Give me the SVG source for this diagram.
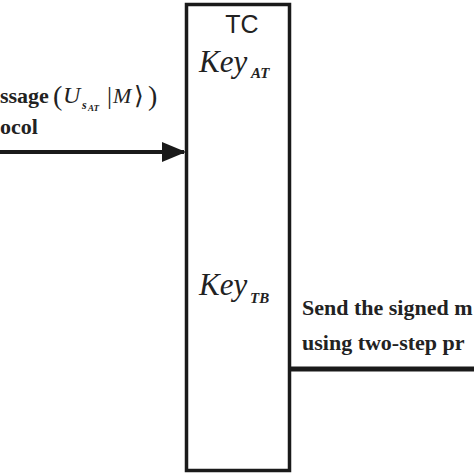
<svg xmlns="http://www.w3.org/2000/svg" width="474" height="474" viewBox="0 0 474 474">
<style>
.lbl{font-family:"Liberation Serif","Times New Roman",serif;font-weight:bold;font-size:22px;fill:#222}
.key{font-family:"Liberation Serif","Times New Roman",serif;font-style:italic;font-weight:normal;fill:#222}
.sub{font-weight:bold}
.ln{stroke:#1a1a1a;fill:none}
</style>
<defs>
<marker id="ah" markerWidth="6" markerHeight="5" refX="5.5" refY="2.5" orient="auto" markerUnits="strokeWidth"><path d="M0,0 L6,2.5 L0,5 Z" fill="#1a1a1a"/></marker>
</defs>
<rect width="474" height="474" fill="#fff"/>
<g id="tc">
<rect x="186.5" y="4.5" width="103" height="466" fill="#fff" stroke="#1a1a1a" stroke-width="3.5"/>
<text x="242" y="33" text-anchor="middle" font-family="Liberation Sans, Arial, sans-serif" font-size="25" fill="#222">TC</text>
<text x="199" y="72" class="key" font-size="31">Key</text>
<text x="251" y="78" class="key sub" font-size="15">AT</text>
<text x="199" y="295" class="key" font-size="31">Key</text>
<text x="250" y="303" class="key sub" font-size="15">TB</text>
</g>
<g id="connectors">
<line class="ln" x1="0" y1="152" x2="184" y2="152" stroke-width="4" marker-end="url(#ah)"/>
<line class="ln" x1="290" y1="369" x2="474" y2="369" stroke-width="5"/>
</g>
<g id="labels">
<text y="103" class="lbl"><tspan x="0">ssage</tspan><tspan x="53" y="105" font-weight="normal" font-size="28">(</tspan><tspan x="63" y="103" class="key" font-size="24">U</tspan><tspan x="82" y="109" class="key sub" font-size="12">s</tspan><tspan x="88" y="111" class="key sub" font-size="9">AT</tspan><tspan x="107" y="104" font-weight="normal" font-size="25">|</tspan><tspan x="113" y="103" class="key" font-size="22">M</tspan><tspan x="134" y="104" font-weight="normal" font-size="25">⟩</tspan><tspan x="148" y="105" font-weight="normal" font-size="28">)</tspan></text>
<text x="0" y="134" class="lbl">ocol</text>
<text x="302" y="315" class="lbl" font-size="23">Send the signed m</text>
<text x="302" y="350" class="lbl" font-size="23">using two-step pr</text>
</g>
</svg>
